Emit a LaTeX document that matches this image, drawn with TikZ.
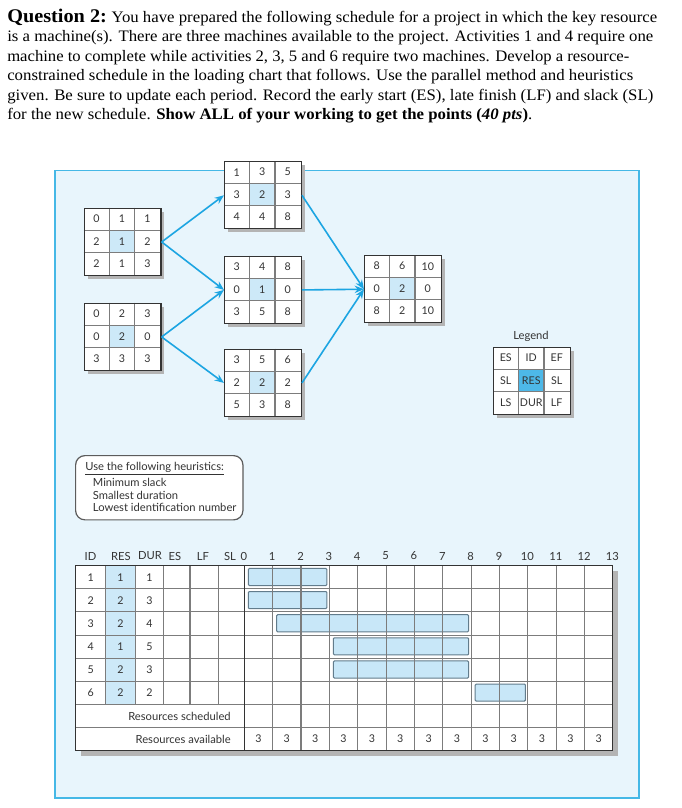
\documentclass[tikz,border=0pt]{standalone}
\usepackage{fontspec}
\usepackage{graphicx}
\setmainfont{Liberation Serif}
\newfontfamily\dfont{Lato}
\usetikzlibrary{arrows.meta}
\definecolor{panelfill}{HTML}{E8F5FC}
\definecolor{panelline}{HTML}{45B8E6}
\definecolor{arrowc}{HTML}{1CA5E2}
\definecolor{cellc}{HTML}{CDE9F8}
\definecolor{legc}{HTML}{4DB8E8}
\definecolor{barfill}{HTML}{C8E7F8}
\definecolor{barline}{HTML}{627C8C}
\definecolor{gridc}{HTML}{7C7C7C}
\definecolor{outerc}{HTML}{333333}
\definecolor{shadowc}{HTML}{B4B4B4}
\definecolor{txtc}{HTML}{333333}
\newlength\px \setlength\px{0.75pt}
\tikzset{
  num/.style={inner sep=0, font=\dfont\fontsize{8}{9}\selectfont, text=txtc},
  hdr/.style={inner sep=0, font=\dfont\fontsize{8.4}{9}\selectfont, text=txtc},
  arr/.style={draw=arrowc, line width=1.2pt, -{Stealth[length=7pt,width=5.5pt]}},
  qtxt/.style={anchor=base west, inner sep=0},
  barbox/.style={fill=barfill, draw=barline, line width=0.8pt, rounded corners=0.8pt},
}
\newcommand\netnode[7]{%
  \fill[shadowc] (#2+4,#3+4) rectangle (#2+80.5,#3+71);
  \fill[white] (#2,#3) rectangle (#2+76.5,#3+67);
  \fill[#7] (#2+25.5,#3+22.33) rectangle (#2+51,#3+44.67);
  \draw[gridc, line width=0.8pt] (#2+25.5,#3) -- (#2+25.5,#3+67) (#2+51,#3) -- (#2+51,#3+67)
     (#2,#3+22.33) -- (#2+76.5,#3+22.33) (#2,#3+44.67) -- (#2+76.5,#3+44.67);
  \node[draw=outerc, line width=1.1pt, minimum width=57.375pt, minimum height=50.25pt, inner sep=0, anchor=north west] (#1) at (#2,#3) {};
  \foreach \v [count=\i] in {#4} \node[num] (#1-a\i) at (#2+12.75+25.5*\i-25.5, #3+11.17) {\v};
  \foreach \v [count=\i] in {#5} \node[num] (#1-b\i) at (#2+12.75+25.5*\i-25.5, #3+33.5) {\v};
  \foreach \v [count=\i] in {#6} \node[num] (#1-c\i) at (#2+12.75+25.5*\i-25.5, #3+55.83) {\v};
}
\begin{document}
\begin{tikzpicture}[x=0.75pt,y=-0.75pt]
\useasboundingbox (0,0) rectangle (682,808);
\fill[white] (0,0) rectangle (682,808);

% question text
\node[qtxt] (q1) at (7,22) {\resizebox{650\px}{\height}{{\fontsize{14.5}{16}\selectfont\bfseries Question 2:} \fontsize{12}{14}\selectfont You have prepared the following schedule for a project in which the key resource}};
\node[qtxt] (q2) at (7,41.5) {\resizebox{646\px}{\height}{\fontsize{12}{14}\selectfont is a machine(s). There are three machines available to the project. Activities 1 and 4 require one}};
\node[qtxt] (q3) at (7,61) {\resizebox{622\px}{\height}{\fontsize{12}{14}\selectfont machine to complete while activities 2, 3, 5 and 6 require two machines. Develop a resource-}};
\node[qtxt] (q4) at (7,80.5) {\resizebox{626\px}{\height}{\fontsize{12}{14}\selectfont constrained schedule in the loading chart that follows. Use the parallel method and heuristics}};
\node[qtxt] (q5) at (7,100) {\resizebox{646\px}{\height}{\fontsize{12}{14}\selectfont given. Be sure to update each period. Record the early start (ES), late finish (LF) and slack (SL)}};
\node[qtxt] (q6) at (7,119.5) {\resizebox{525\px}{\height}{\fontsize{12}{14}\selectfont for the new schedule. \textbf{Show ALL of your working to get the points (\textit{40 pts})}.}};

% panel
\draw[panelline, line width=1.3pt, fill=panelfill] (55,170.5) rectangle (639,798);

% network nodes
\netnode{n1}{83.7}{207.7}{0,1,1}{2,1,2}{2,1,3}{cellc}
\netnode{n2}{83.7}{302.7}{0,2,3}{0,2,0}{3,3,3}{cellc}
\netnode{n3}{224}{161}{1,3,5}{3,2,3}{4,4,8}{cellc}
\netnode{n4}{224}{255.7}{3,4,8}{0,1,0}{3,5,8}{cellc}
\netnode{n5}{224}{348.7}{3,5,6}{2,2,2}{5,3,8}{cellc}
\netnode{n6}{364}{255}{8,6,10}{0,2,0}{8,2,10}{cellc}
\netnode{lg}{493}{346.7}{ES,ID,EF}{SL,RES,SL}{LS,DUR,LF}{legc}
\node[hdr] (legtitle) at (531,336) {Legend};

\draw[arr] (n1.east) -- (n3.west);
\draw[arr] (n1.east) -- (n4.west);
\draw[arr] (n2.east) -- (n4.west);
\draw[arr] (n2.east) -- (n5.west);
\draw[arr] (n3.east) -- (n6.west);
\draw[arr] (n4.east) -- (n6.west);
\draw[arr] (n5.east) -- (n6.west);

% heuristics box
\node[draw=outerc!80, line width=0.9pt, fill=white, rounded corners=7pt, minimum width=125.5pt, minimum height=48.2pt, anchor=north west, inner sep=0] (heur) at (75,455) {};
\node[hdr, anchor=base west] (h0) at (85,470.5) {\underline{Use the following heuristics:}};
\node[hdr, anchor=base west] (h1) at (92.7,486.5) {Minimum slack};
\node[hdr, anchor=base west] (h2) at (92.7,499) {Smallest duration};
\node[hdr, anchor=base west] (h3) at (92.7,511.5) {Lowest identification number};

% table
\def\tx{244.3}\def\cw{28.36}\def\ty{565.7}\def\rh{23.125}
\fill[shadowc] (80.7,570.7) rectangle (618,755.7);
\fill[white] (75.7,565.7) rectangle (612.7,750.7);
\fill[cellc] (105.7,565.7) rectangle (135.3,704.45);
% bars
\foreach \r/\a/\b in {1/0/3,2/0/3,3/1/8,4/3/8,5/3/8,6/8/10}
  \draw[barbox] (\tx+\cw*\a+4, \ty+\rh*\r-\rh+2.7) rectangle (\tx+\cw*\b-2.5, \ty+\rh*\r-3.3);
% grid
\foreach \k in {1,...,7} \draw[gridc, line width=0.8pt] (75.7,\ty+\rh*\k) -- (612.7,\ty+\rh*\k);
\foreach \xx in {105.7,135.3,163.7,190,218.3} \draw[gridc, line width=0.8pt] (\xx,565.7) -- (\xx,704.45);
\foreach \k in {1,...,12} \draw[gridc, line width=0.8pt] (\tx+\cw*\k,565.7) -- (\tx+\cw*\k,750.7);
\draw[outerc, line width=1.1pt] (\tx,565.7) -- (\tx,750.7);
\draw[outerc, line width=1.1pt] (75.7,565.7) rectangle (612.7,750.7);
% header
\foreach \t/\xx [count=\i] in {ID/90.5,RES/121,DUR/150,ES/175,LF/203,SL/230}
  \node[hdr] (hd\i) at (\xx,556) {\t};
\foreach \k in {0,...,13} \node[hdr] (tm\k) at (\tx+\cw*\k-0.5,556) {\k};
% rows
\foreach \a/\b/\c [count=\r] in {1/1/1,2/2/3,3/2/4,4/1/5,5/2/3,6/2/2}{
  \node[num] (id\r) at (90.7,\ty+\rh*\r-\rh/2) {\a};
  \node[num] (rs\r) at (120.5,\ty+\rh*\r-\rh/2) {\b};
  \node[num] (du\r) at (149.5,\ty+\rh*\r-\rh/2) {\c};
}
\node[hdr, anchor=east] (rsched) at (231,\ty+\rh*6.5) {Resources scheduled};
\node[hdr, anchor=east] (ravail) at (231,\ty+\rh*7.5) {Resources available};
\foreach \k in {1,...,13} \node[num] (av\k) at (\tx+\cw*\k-\cw/2,\ty+\rh*7.5) {3};
\end{tikzpicture}
\end{document}
